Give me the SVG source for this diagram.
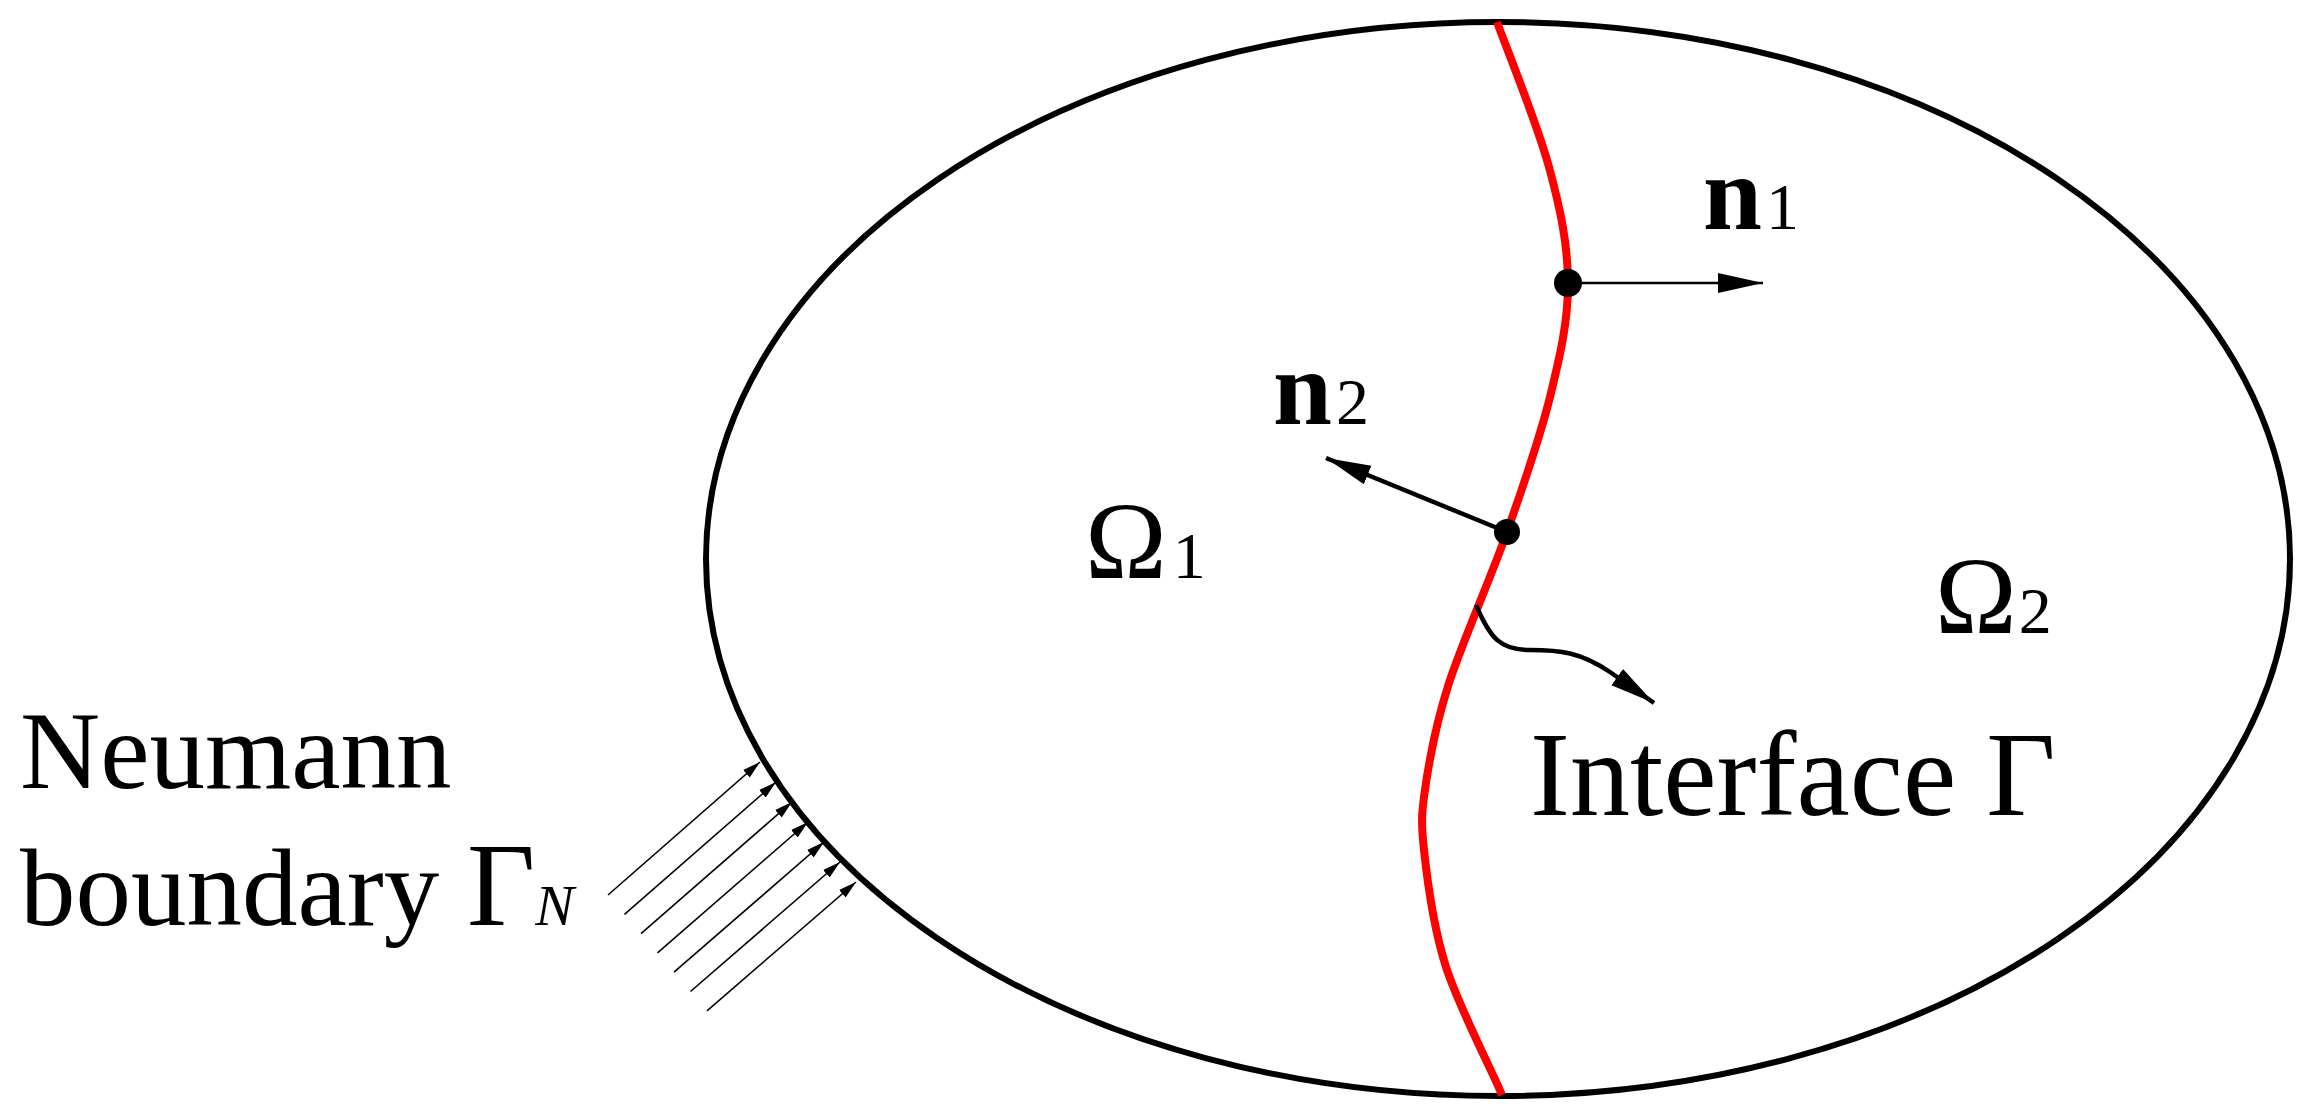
<svg xmlns="http://www.w3.org/2000/svg" width="2316" height="1119" viewBox="0 0 2316 1119">
  <style>
    .txt { font-family: "Liberation Serif", "Times New Roman", serif; fill: #000; }
    .bold { font-weight: bold; }
    .sub { font-weight: normal; }
    .boundary { fill: none; stroke: #000; stroke-width: 6; }
    .iface { fill: none; stroke: #ff0000; stroke-width: 8; }
    .arrow-thin { fill: none; stroke: #000; stroke-width: 2.5; }
    .arrow-mid { fill: none; stroke: #000; stroke-width: 4.5; }
    .arrow-flux { fill: none; stroke: #000; stroke-width: 1.6; }
    .dot { fill: #000; }
  </style>
  <defs>
    <marker id="head-lg" markerUnits="userSpaceOnUse" markerWidth="46" markerHeight="22" refX="45" refY="11" orient="auto" viewBox="0 0 46 22">
      <path d="M0,1 L45,11 L0,21 Z" fill="#000"/>
    </marker>
    <marker id="head-sm" markerUnits="userSpaceOnUse" markerWidth="19" markerHeight="12" refX="18" refY="6" orient="auto" viewBox="0 0 19 12">
      <path d="M0,1 L18,6 L0,11 Z" fill="#000"/>
    </marker>
  </defs>

  <rect width="2316" height="1119" fill="#fff"/>

  <g id="domain">
    <ellipse class="boundary" cx="1498" cy="559" rx="792" ry="537"/>
  </g>

  <g id="interface">
    <path class="iface" d="M1497,22 C1505.7,46.2 1537.2,123.5 1549,167 C1560.8,210.5 1567.8,244.7 1568,283 C1568.2,321.3 1560.2,355.5 1550,397 C1539.8,438.5 1523.8,484.3 1507,532 C1490.2,579.7 1462.5,641.2 1449,683 C1435.5,724.8 1430.2,755.2 1426,783 C1421.8,810.8 1420.7,819.3 1424,850 C1427.3,880.7 1433,926.5 1446,967 C1459,1007.5 1492.7,1072 1502,1095"/>
  </g>

  <g id="connectors">
    <line class="arrow-thin" x1="1568" y1="283" x2="1763" y2="283" marker-end="url(#head-lg)"/>
    <line class="arrow-mid" x1="1507" y1="532" x2="1326" y2="458" marker-end="url(#head-lg)"/>
    <path class="arrow-mid" d="M1476,605 C1490,638 1500,650 1530,650 C1560,650 1580,652 1610,672 L1654,703" marker-end="url(#head-lg)"/>
    <g id="neumann-flux">
      <line class="arrow-flux" x1="608" y1="895" x2="760" y2="762" marker-end="url(#head-sm)"/>
      <line class="arrow-flux" x1="624.5" y1="914.3" x2="776" y2="782" marker-end="url(#head-sm)"/>
      <line class="arrow-flux" x1="641" y1="933.6" x2="792" y2="802" marker-end="url(#head-sm)"/>
      <line class="arrow-flux" x1="657.5" y1="952.9" x2="808" y2="822" marker-end="url(#head-sm)"/>
      <line class="arrow-flux" x1="674" y1="972.2" x2="824" y2="842" marker-end="url(#head-sm)"/>
      <line class="arrow-flux" x1="690.5" y1="991.5" x2="840" y2="862" marker-end="url(#head-sm)"/>
      <line class="arrow-flux" x1="707" y1="1010.8" x2="856" y2="882" marker-end="url(#head-sm)"/>
    </g>
  </g>

  <g id="point-n1">
    <circle class="dot" cx="1568" cy="283" r="14"/>
    <text class="txt bold" x="1703" y="229" font-size="106">n<tspan class="sub" font-size="66" dx="4">1</tspan></text>
  </g>

  <g id="point-n2">
    <circle class="dot" cx="1507" cy="532" r="13"/>
    <text class="txt bold" x="1273" y="424" font-size="106">n<tspan class="sub" font-size="66" dx="4">2</tspan></text>
  </g>

  <g id="omega1">
    <text class="txt" x="1085" y="578" font-size="110">Ω<tspan font-size="66" dx="6">1</tspan></text>
  </g>

  <g id="omega2">
    <text class="txt" x="1935" y="633" font-size="110">Ω<tspan font-size="66" dx="2">2</tspan></text>
  </g>

  <g id="interface-label">
    <text class="txt" x="1530" y="815" font-size="120">Interface Γ</text>
  </g>

  <g id="neumann-label">
    <text class="txt" x="20" y="788" font-size="111">Neumann</text>
    <text class="txt" x="20" y="925" font-size="111">boundary <tspan font-size="118">Γ</tspan><tspan font-size="58" font-style="italic">N</tspan></text>
  </g>
</svg>
